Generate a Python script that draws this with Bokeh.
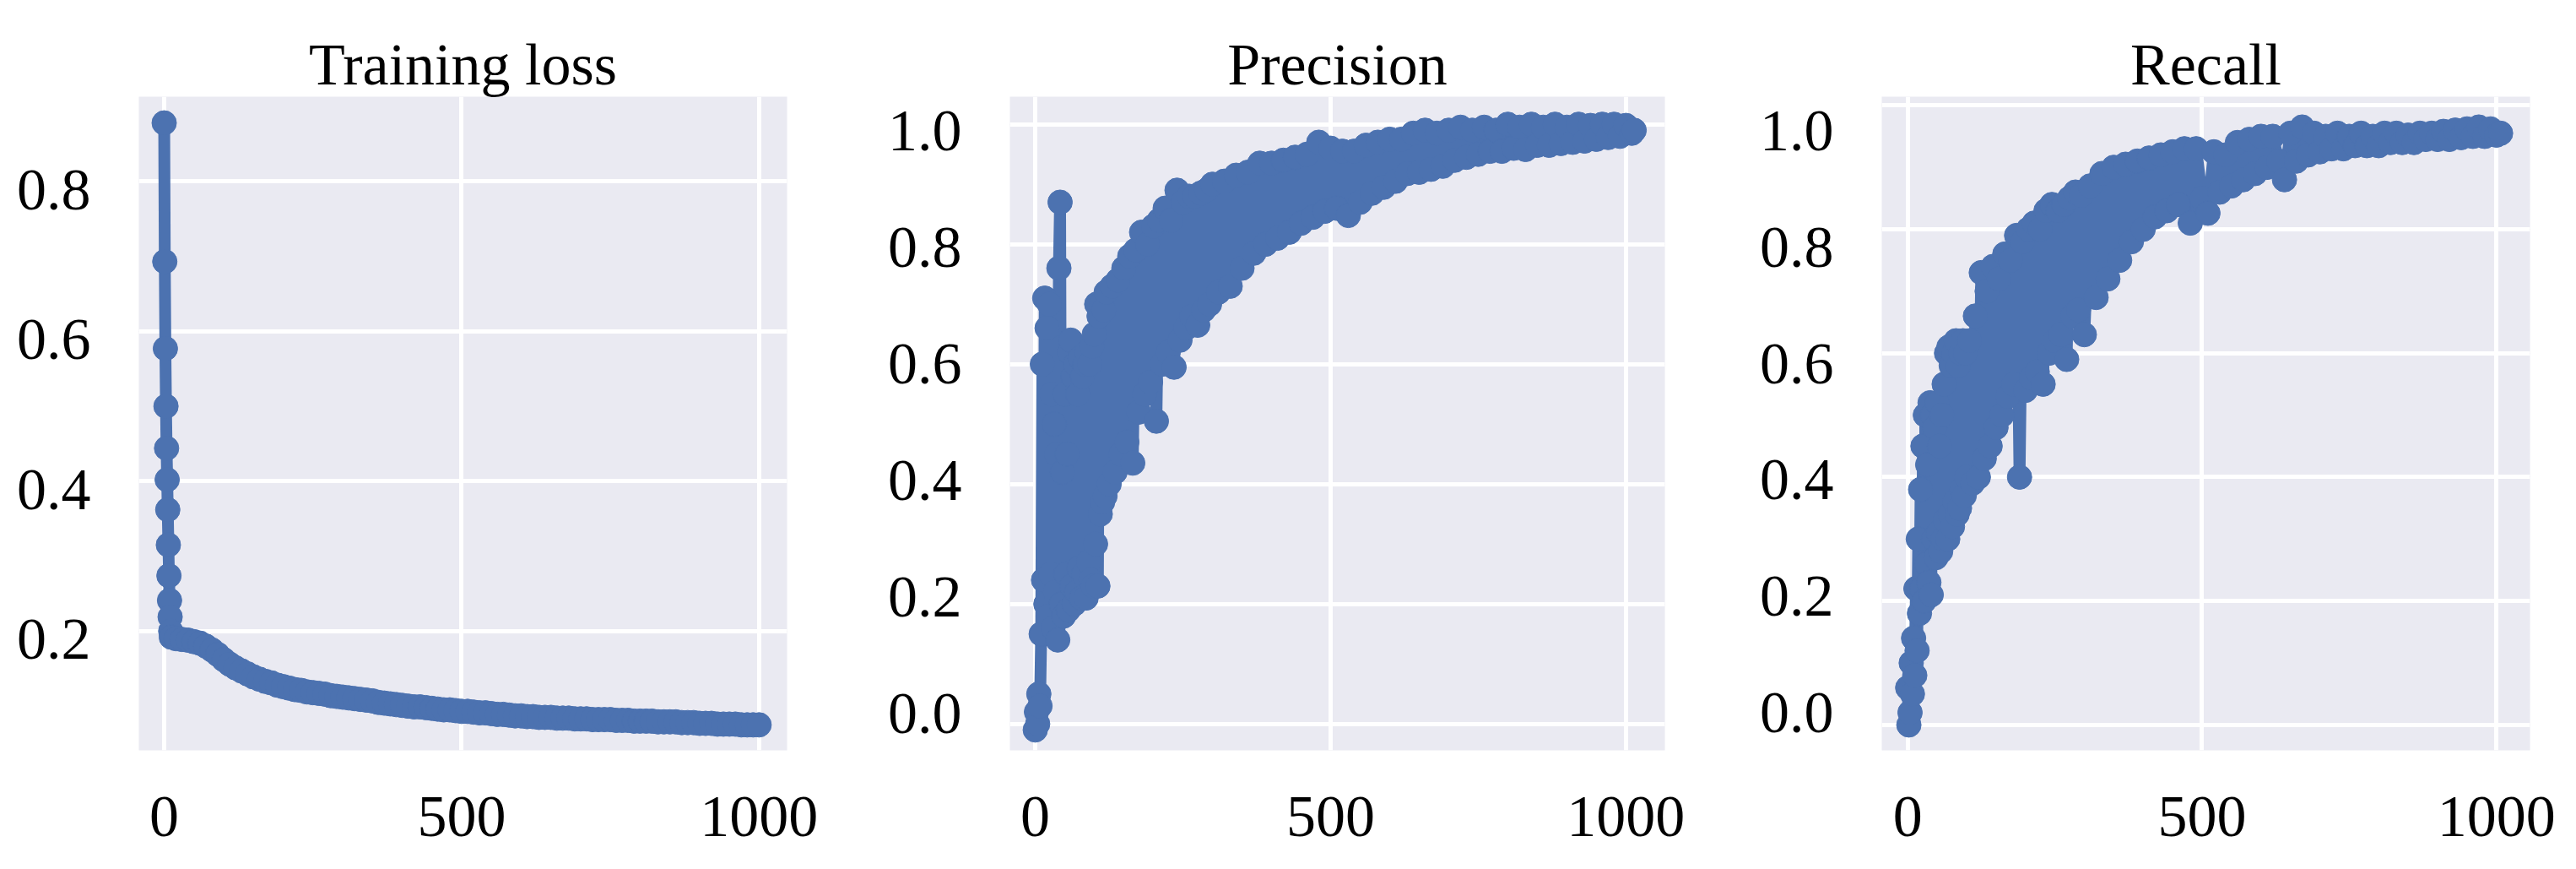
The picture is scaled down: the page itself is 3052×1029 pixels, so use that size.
from bokeh.plotting import figure
from bokeh.layouts import row
from bokeh.models import Range1d, FixedTicker, LinearAxis, Grid, PrintfTickFormatter
from bokeh.embed import file_html
from bokeh.resources import INLINE

titles = ["Training loss", "Precision", "Recall"]
x_ticks = [0, 500, 1000]
loss_y_ticks = [0.2, 0.4, 0.6, 0.8]
metric_y_ticks = [0.0, 0.2, 0.4, 0.6, 0.8, 1.0]

# ---------------- Training loss ----------------
loss_epoch = [0, 1, 2, 3, 4, 5, 6, 7, 8, 9, 10, 11, 12,
              20, 30, 40, 50, 60, 70, 80, 90, 100,
              110, 120, 130, 140, 150, 160, 170, 180, 190, 200,
              210, 220, 230, 240, 250, 260, 270, 280, 290, 300,
              310, 320, 330, 340, 350, 360, 370, 380, 390, 400,
              410, 420, 430, 440, 450, 460, 470, 480, 490, 500,
              510, 520, 530, 540, 550, 560, 570, 580, 590, 600,
              610, 620, 630, 640, 650, 660, 670, 680, 690, 700,
              710, 720, 730, 740, 750, 760, 770, 780, 790, 800,
              810, 820, 830, 840, 850, 860, 870, 880, 890, 900,
              910, 920, 930, 940, 950, 960, 970, 980, 990, 1000]
loss_value = [0.878, 0.693, 0.577, 0.500, 0.444, 0.402, 0.362, 0.315, 0.274, 0.241, 0.219, 0.200, 0.192,
              0.190, 0.189, 0.188, 0.186, 0.184, 0.180, 0.175, 0.169, 0.162,
              0.156, 0.151, 0.147, 0.143, 0.139, 0.136, 0.133, 0.131, 0.128, 0.126,
              0.124, 0.122, 0.121, 0.119, 0.118, 0.117, 0.116, 0.114, 0.113, 0.112,
              0.111, 0.110, 0.109, 0.108, 0.107, 0.105, 0.104, 0.103, 0.102, 0.101,
              0.100, 0.099, 0.099, 0.098, 0.097, 0.096, 0.095, 0.095, 0.094, 0.093,
              0.093, 0.092, 0.091, 0.091, 0.090, 0.089, 0.089, 0.088, 0.087, 0.087,
              0.086, 0.086, 0.085, 0.085, 0.085, 0.084, 0.084, 0.084, 0.083, 0.083,
              0.083, 0.082, 0.082, 0.082, 0.082, 0.081, 0.081, 0.081, 0.080, 0.080,
              0.080, 0.080, 0.079, 0.079, 0.079, 0.079, 0.078, 0.078, 0.078, 0.077,
              0.077, 0.077, 0.076, 0.076, 0.076, 0.076, 0.075, 0.075, 0.075, 0.075]

# ---------------- Precision ----------------
prec_epoch = [0, 2, 4, 6, 8, 10, 12, 14, 16, 18,
              20, 22, 24, 26, 28, 30, 32, 34, 36, 38,
              40, 42, 44, 46, 48, 50, 52, 54, 56, 58,
              60, 62, 64, 66, 68, 70, 72, 74, 76, 78,
              80, 82, 84, 86, 88, 90, 92, 94, 96, 98,
              100, 102, 104, 106, 108, 110, 112, 114, 116, 118, 120,
              125, 130, 135, 140, 145, 150, 155, 160, 165, 170,
              175, 180, 185, 190, 195, 200, 205, 210, 215, 220,
              225, 230, 235, 240, 245, 250, 255, 260, 265, 270,
              275, 280, 285, 290, 295, 300,
              310, 320, 330, 340, 350, 360, 370, 380, 390, 400,
              410, 420, 430, 440, 450, 460, 470, 480, 490, 500,
              510, 520, 530, 540, 550, 560, 570, 580, 590, 600,
              610, 620, 630, 640, 650, 660, 670, 680, 690, 700,
              710, 720, 730, 740, 750, 760, 770, 780, 790, 800,
              810, 820, 830, 840, 850, 860, 870, 880, 890, 900,
              910, 920, 930, 940, 950, 960, 970, 980, 990, 1000,
              1010, 1014]
prec_value = [-0.01, 0.02, 0.00, 0.05, 0.03, 0.15, 0.60, 0.24, 0.71, 0.20,
              0.66, 0.18, 0.70, 0.25, 0.55, 0.16, 0.50, 0.22, 0.45, 0.14,
              0.76, 0.87, 0.20, 0.42, 0.18, 0.55, 0.25, 0.45, 0.19, 0.62,
              0.64, 0.23, 0.58, 0.20, 0.60, 0.22, 0.55, 0.26, 0.61, 0.21,
              0.58, 0.25, 0.60, 0.21, 0.62, 0.27, 0.60, 0.24, 0.63, 0.23,
              0.65, 0.30, 0.70, 0.23, 0.68, 0.35, 0.70, 0.37, 0.69, 0.38, 0.72,
              0.40, 0.73, 0.42, 0.74, 0.45, 0.76, 0.47, 0.78, 0.435, 0.79,
              0.52, 0.82, 0.55, 0.80, 0.57, 0.83, 0.505, 0.84, 0.60, 0.86,
              0.62, 0.84, 0.595, 0.89, 0.64, 0.87, 0.66, 0.88, 0.68, 0.88,
              0.665, 0.885, 0.69, 0.89, 0.70, 0.90,
              0.72, 0.905, 0.73, 0.915, 0.76, 0.92, 0.785, 0.935, 0.80, 0.935,
              0.81, 0.94, 0.82, 0.945, 0.835, 0.95, 0.845, 0.97, 0.855, 0.96,
              0.86, 0.955, 0.848, 0.955, 0.87, 0.965, 0.885, 0.97, 0.895, 0.975,
              0.905, 0.975, 0.918, 0.985, 0.92, 0.99, 0.925, 0.985, 0.93, 0.99,
              0.94, 0.995, 0.945, 0.99, 0.95, 0.995, 0.955, 0.99, 0.955, 1.0,
              0.96, 0.995, 0.958, 1.0, 0.965, 0.995, 0.965, 1.0, 0.968, 0.995,
              0.97, 1.0, 0.972, 0.998, 0.975, 1.0, 0.978, 1.0, 0.98, 0.998,
              0.985, 0.99]

# ---------------- Recall ----------------
rec_epoch = [0, 2, 4, 6, 8, 10, 12, 14, 16, 18,
             20, 22, 24, 26, 28, 30, 32, 34, 36, 38,
             40, 42, 44, 46, 48, 50, 52, 54, 56, 58,
             60, 62, 64, 66, 68, 70, 72, 74, 76, 78,
             80, 82, 84, 86, 88, 90, 92, 94, 96, 98, 100,
             105, 110, 115, 120, 125, 130, 135, 140, 145, 150,
             155, 160, 165, 170, 175, 180, 185, 190, 195, 200,
             205, 210, 215, 220, 225, 230, 235, 240, 245, 250,
             255, 260, 265, 270, 275, 280, 285, 290, 295, 300,
             310, 320, 330, 340, 350, 360, 370, 380, 390, 400,
             410, 420, 430, 440, 450, 460, 470, 480, 490, 500,
             510, 520, 530, 540, 550, 560, 570, 580, 590, 600,
             610, 620, 630, 640, 650, 660, 670, 680, 690, 700,
             710, 720, 730, 740, 750, 760, 770, 780, 790, 800,
             810, 820, 830, 840, 850, 860, 870, 880, 890, 900,
             910, 920, 930, 940, 950, 960, 970, 980, 990, 1000,
             1007]
rec_value = [0.06, 0.00, 0.02, 0.10, 0.05, 0.14, 0.08, 0.22, 0.12, 0.30,
             0.18, 0.38, 0.22, 0.45, 0.20, 0.50, 0.26, 0.42, 0.23, 0.52,
             0.21, 0.50, 0.30, 0.48, 0.27, 0.52, 0.31, 0.45, 0.28, 0.50,
             0.30, 0.55, 0.33, 0.60, 0.30, 0.61, 0.34, 0.58, 0.32, 0.60,
             0.36, 0.62, 0.34, 0.58, 0.35, 0.60, 0.38, 0.62, 0.37, 0.60, 0.40,
             0.62, 0.39, 0.66, 0.40, 0.73, 0.43, 0.70, 0.45, 0.74, 0.48,
             0.72, 0.50, 0.76, 0.53, 0.75, 0.55, 0.79, 0.40, 0.78, 0.54,
             0.80, 0.56, 0.81, 0.57, 0.80, 0.55, 0.83, 0.60, 0.84, 0.62,
             0.83, 0.63, 0.84, 0.59, 0.85, 0.66, 0.86, 0.67, 0.855, 0.63,
             0.87, 0.69, 0.89, 0.72, 0.90, 0.75, 0.905, 0.78, 0.91, 0.80,
             0.915, 0.82, 0.92, 0.83, 0.925, 0.84, 0.93, 0.81, 0.93, 0.85,
             0.826, 0.925, 0.86, 0.92, 0.87, 0.94, 0.88, 0.945, 0.89, 0.95,
             0.90, 0.95, 0.91, 0.88, 0.955, 0.91, 0.965, 0.92, 0.955, 0.925,
             0.95, 0.93, 0.955, 0.93, 0.95, 0.935, 0.955, 0.935, 0.95, 0.935,
             0.955, 0.94, 0.955, 0.94, 0.952, 0.94, 0.955, 0.945, 0.955, 0.945,
             0.958, 0.945, 0.96, 0.948, 0.962, 0.95, 0.965, 0.95, 0.962, 0.952,
             0.955]

BLUE = "#4C72B0"
FONT = "Liberation Serif"
FONT_SIZE = "70px"


def style_axis(ax, standoff):
    ax.axis_line_color = None
    ax.major_tick_line_color = None
    ax.minor_tick_line_color = None
    ax.major_tick_out = 0
    ax.major_tick_in = 0
    ax.major_label_standoff = standoff
    ax.major_label_text_font = FONT
    ax.major_label_text_font_size = FONT_SIZE
    ax.major_label_text_color = "black"


def make_panel(title, xs, ys, yticks, x_rng, y_rng, lab_rng, width, left, right):
    p = figure(width=width, height=1010,
               x_range=Range1d(*x_rng), y_range=Range1d(*y_rng),
               min_border_left=left, min_border_right=right,
               min_border_top=114, min_border_bottom=122,
               output_backend="svg", toolbar_location=None,
               y_axis_location=None, title=title)
    p.background_fill_color = "#EAEAF2"
    p.border_fill_color = "white"
    p.outline_line_color = None
    p.title.align = "center"
    p.title.text_font = FONT
    p.title.text_font_size = FONT_SIZE
    p.title.text_font_style = "normal"
    p.title.text_color = "black"
    p.title.standoff = 0
    p.title.padding = (0, 0, 24, 0)

    p.extra_y_ranges = {"lab": Range1d(*lab_rng)}
    yaxis = LinearAxis(y_range_name="lab", ticker=FixedTicker(ticks=yticks),
                       formatter=PrintfTickFormatter(format="%.1f"))
    style_axis(yaxis, 57)
    p.add_layout(yaxis, "left")
    p.add_layout(Grid(dimension=1, ticker=FixedTicker(ticks=yticks),
                      grid_line_color="white", grid_line_width=5))

    xaxis = p.below[0]
    xaxis.ticker = FixedTicker(ticks=x_ticks)
    style_axis(xaxis, 55)
    p.xgrid.grid_line_color = "white"
    p.xgrid.grid_line_width = 5
    p.xgrid.ticker = FixedTicker(ticks=x_ticks)

    p.line(xs, ys, line_color=BLUE, line_width=14)
    p.scatter(xs, ys, size=29, fill_color=BLUE, line_color=BLUE)
    return p


p1 = make_panel(titles[0], loss_epoch, loss_value, loss_y_ticks,
                (-42.6, 1047), (0.041, 0.913), (0.0523, 0.9243), 992, 164, 60)
p2 = make_panel(titles[1], prec_epoch, prec_value, metric_y_ticks,
                (-43, 1066), (-0.044, 1.046), (-0.0638, 1.0594), 1060, 204, 80)
p3 = make_panel(titles[2], rec_epoch, rec_value, metric_y_ticks,
                (-44, 1057), (-0.041, 1.014), (-0.0638, 1.058), 984, 177, 39)

layout = row(p1, p2, p3)
open("out.html", "w").write(file_html(layout, INLINE))
